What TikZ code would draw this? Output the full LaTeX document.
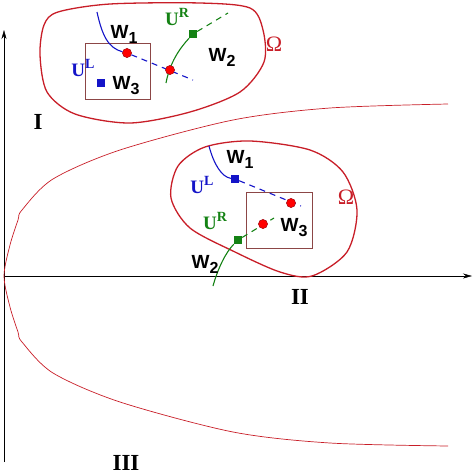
\documentclass[tikz,border=0pt]{standalone}
\usepackage{fontspec}
\newfontfamily\wfont{Liberation Sans}
\setmainfont{Liberation Serif}
\usetikzlibrary{arrows.meta}
\definecolor{domred}{RGB}{200,30,40}
\definecolor{boxbrown}{RGB}{140,70,70}
\definecolor{ugreen}{RGB}{20,130,20}
\definecolor{ublue}{RGB}{20,20,200}
\newcommand{\wsub}[2]{#1\raisebox{-5pt}{\fontsize{16}{16}\selectfont #2}}
\newcommand{\usup}[2]{#1\raisebox{8pt}{\fontsize{14}{14}\selectfont #2}}

\begin{document}
\begin{tikzpicture}[x=1pt,y=-1pt,%
    wlabel/.style={font=\wfont\bfseries\fontsize{19}{19}\selectfont,inner sep=0pt},
    ulabel/.style={font=\bfseries\fontsize{19}{19}\selectfont,inner sep=0pt},
    omlabel/.style={text=domred,font=\fontsize{22}{22}\selectfont,inner sep=0pt},
    region/.style={font=\bfseries\fontsize{23}{23}\selectfont,inner sep=0pt},
    dot/.style={circle,fill=red,draw=domred!80!black,inner sep=0pt,minimum size=9pt},
    sq/.style={rectangle,inner sep=0pt,minimum size=8pt},
    omegaline/.style={draw=domred,line width=1.3pt},
    cell/.style={draw=boxbrown,line width=0.9pt}]
  \useasboundingbox (0,0) rectangle (474,474);
  % axes
  \coordinate (o) at (4,276);
  \coordinate (ytop) at (4,30);
  \coordinate (ybot) at (4,462);
  \coordinate (xend) at (472,276);
  \draw[-{Stealth[length=9pt,width=5pt]}] (ybot) -- (ytop);
  \draw[-{Stealth[length=9pt,width=5pt]}] (o) -- (xend);
  % hyperbola
  \draw[domred,line width=0.7pt] plot[smooth] coordinates {(448,104) (330,108) (233,120) (120,150) (53,179) (22,210) (18,220) (10,245) (4,276)
    (10,307) (18,332) (22,342) (53,373) (120,402) (233,432) (330,443) (448,446)};
  \node[region] (rI) at (38,122) {I};
  \node[region] (rII) at (300,297) {II};
  \node[region] (rIII) at (126,463) {III};
  % upper domain
  \draw[omegaline] plot[smooth cycle] coordinates {(58,12) (110,4) (200,3) (250,8) (263,30) (264,62) (240,92) (190,112) (130,123) (75,114) (47,92) (40,55) (44,25)};
  \node[omlabel] (om1) at (274,44) {Ω};
  \draw[cell] (85,43) rectangle (150,99);
  \node[dot] (a1) at (127,53) {};
  \node[dot] (a2) at (170,70) {};
  \coordinate (a1s) at (97,12);
  \coordinate (a1e) at (193,80);
  \coordinate (a2s) at (166,83);
  \coordinate (a2e) at (228,13);
  \node[sq,fill=ugreen] (ur1) at (193,34) {};
  \node[sq,fill=ublue] (ul1) at (101,83) {};
  \draw[ublue,line width=1.1pt] (a1s) .. controls (102,35) and (108,48) .. (a1);
  \draw[ublue,line width=1.1pt,dash pattern=on 6pt off 5pt] (a1) -- (a1e);
  \draw[ugreen,line width=1.1pt] (a2s) .. controls (170,62) and (180,48) .. (ur1);
  \draw[ugreen,line width=1.1pt,dash pattern=on 6pt off 5pt] (ur1) -- (a2e);
  \node[dot] at (a1) {};
  \node[dot] at (a2) {};
  \node[wlabel] (w1a) at (124,34) {\wsub{W}{1}};
  \node[wlabel] (w2a) at (222,57) {\wsub{W}{2}};
  \node[wlabel] (w3a) at (126,86) {\wsub{W}{3}};
  \node[ulabel,text=ublue] (ula) at (83,68) {\usup{U}{L}};
  \node[ulabel,text=ugreen] (ura) at (177,17) {\usup{U}{R}};
  % lower domain
  \draw[omegaline] plot[smooth cycle] coordinates {(178,166) (205,147) (250,141) (310,150) (343,172) (357,210) (347,252) (312,276) (280,272) (235,252) (190,228) (171,198)};
  \node[omlabel] (om2) at (346,197) {Ω};
  \draw[cell] (246,192) rectangle (312,248);
  \node[dot] (b1) at (291,203) {};
  \node[dot] (b2) at (263,224) {};
  \coordinate (b1s) at (209,146);
  \coordinate (b1e) at (301,206);
  \coordinate (b2s) at (213,286);
  \coordinate (b2e) at (274,218);
  \node[sq,fill=ublue] (ul2) at (235,179) {};
  \node[sq,fill=ugreen] (ur2) at (238,240) {};
  \draw[ublue,line width=1.1pt] (b1s) .. controls (214,165) and (222,177) .. (ul2);
  \draw[ublue,line width=1.1pt,dash pattern=on 6pt off 5pt] (ul2) -- (b1e);
  \draw[ugreen,line width=1.1pt] (b2s) .. controls (218,268) and (226,252) .. (ur2);
  \draw[ugreen,line width=1.1pt,dash pattern=on 6pt off 5pt] (ur2) -- (b2e);
  \node[dot] at (b1) {};
  \node[dot] at (b2) {};
  \node[wlabel] (w1b) at (240,159) {\wsub{W}{1}};
  \node[wlabel] (w2b) at (205,264) {\wsub{W}{2}};
  \node[wlabel] (w3b) at (294,228) {\wsub{W}{3}};
  \node[ulabel,text=ublue] (ulb) at (202,185) {\usup{U}{L}};
  \node[ulabel,text=ugreen] (urb) at (215,221) {\usup{U}{R}};
\end{tikzpicture}
\end{document}
